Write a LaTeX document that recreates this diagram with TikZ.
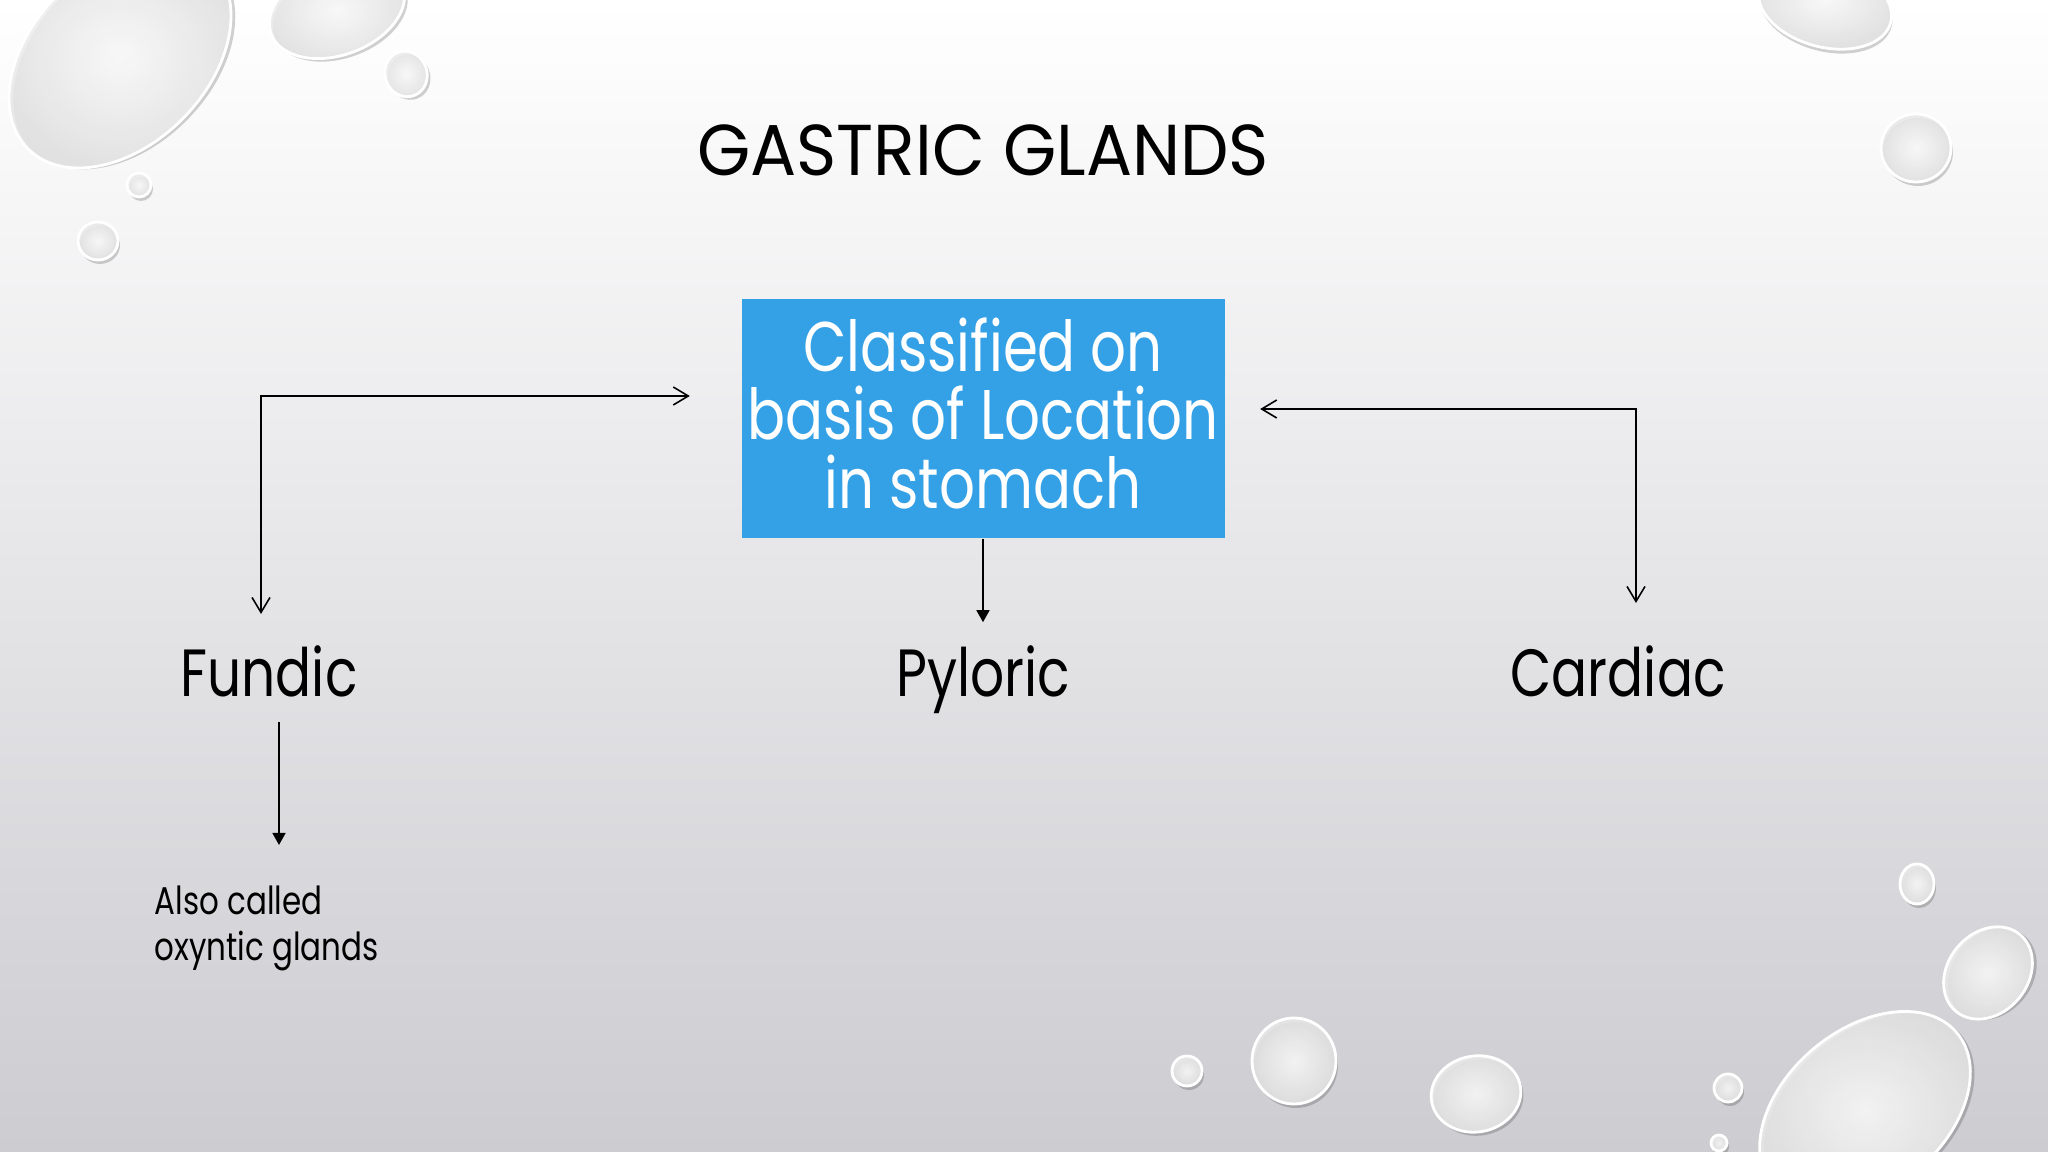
\documentclass[tikz,border=0pt]{standalone}
\usepackage{fontspec}
\setmainfont[FakeStretch=0.8]{Poppins}
\newfontfamily\titlefont[FakeStretch=0.95]{Poppins}
\usetikzlibrary{positioning,arrows.meta,calc}
\definecolor{boxblue}{RGB}{52,161,231}
\definecolor{bgbottom}{RGB}{204,204,209}
\definecolor{bgmid}{RGB}{240,240,242}
\begin{document}
\begin{tikzpicture}[
  openarrow/.style={line width=.45pt, {Straight Barb[length=1.5mm,width=1.8mm]}-{Straight Barb[length=1.5mm,width=1.8mm]}},
  solidarrow/.style={line width=.45pt, -{Triangle[length=1.2mm,width=1.3mm]}},
  gland/.style={font=\fontsize{19}{22}\selectfont, inner sep=0pt, anchor=base},
  classbox/.style={fill=boxblue, text=white, minimum width=4.83cm, minimum height=2.39cm,
    align=center, inner sep=0pt, font=\fontsize{20}{19.5}\selectfont}]

% background and drops
\shade [top color=white, middle color=bgmid, bottom color=bgbottom] (0,0) rectangle (20.48,11.52);
\useasboundingbox (0,0) rectangle (20.48,11.52);
\foreach \x/\y/\a/\b/\r in {1.2/10.95/1.3/.88/45, 3.37/11.42/.7/.45/20, 4.06/10.78/.21/.23/20,
  1.39/9.67/.12/.12/0, .98/9.11/.2/.19/0, 18.25/11.47/.68/.42/-15, 19.16/10.04/.35/.34/0,
  19.17/2.68/.17/.2/0, 19.88/1.79/.5/.4/50, 18.65/.42/1.2/.8/40, 17.28/.64/.14/.14/0,
  17.19/.09/.08/.08/0, 14.76/.58/.45/.38/10, 12.94/.91/.42/.43/0, 11.87/.81/.15/.15/0}
{
  \begin{scope}[shift={(\x,\y)}, rotate=\r]
  \fill [black, opacity=.18] (.02,-.04) ellipse [x radius=\a cm, y radius=\b cm];
  \shade [inner color=white, outer color=black!10, opacity=.85] (0,0) ellipse [x radius=\a cm, y radius=\b cm];
  \draw [white, line width=.8pt] (0,0) ellipse [x radius=\a cm, y radius=\b cm];
  \end{scope}
}

\node [font=\titlefont\fontsize{20.5}{24}\selectfont, anchor=base] (title) at (9.83,9.76) {GASTRIC GLANDS};
\node [classbox] (location) at (9.83,7.33) {\raisebox{1.2mm}{\shortstack{Classified on\\[1pt]basis of Location\\[1pt]in stomach}}};

\node [gland] (fundic) at (2.69,4.55) {Fundic};
\node [gland] (pyloric) at (9.83,4.55) {Pyloric};
\node [gland] (cardiac) at (16.18,4.55) {Cardiac};
\node [font=\fontsize{11}{13.3}\selectfont, align=left, anchor=base west, inner sep=0pt] (oxyntic) at (1.54,1.91) {Also called\\oxyntic glands};

\coordinate (lcorner) at (2.61,7.56);
\coordinate (rcorner) at (16.36,7.43);
\draw [openarrow] (lcorner |- 0,5.38) -- (lcorner) -- ([xshift=-5.1mm]location.west |- lcorner);
\draw [openarrow] (rcorner |- 0,5.49) -- (rcorner) -- ([xshift=3.5mm]location.east |- rcorner);
\draw [solidarrow] (location.south) -- ++(0,-.83);
\draw [solidarrow] (2.79,4.30) -- (2.79,3.07);
\end{tikzpicture}
\end{document}
